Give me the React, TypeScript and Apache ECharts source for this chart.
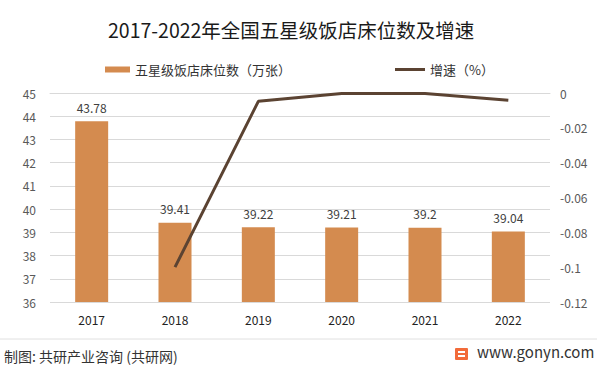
import React, { useEffect, useRef } from "react";
import * as echarts from "echarts";

const categories = ["2017", "2018", "2019", "2020", "2021", "2022"];
const beds = [43.78, 39.41, 39.22, 39.21, 39.2, 39.04];
const growth = [null, -0.1, -0.0048, -0.0003, -0.0003, -0.0041];
const titleText = "2017-2022年全国五星级饭店床位数及增速";
const barName = "五星级饭店床位数（万张）";
const lineName = "增速（%）";
const sourceText = "制图: 共研产业咨询 (共研网)";
const siteText = "www.gonyn.com";

export default function App() {
  const ref = useRef<HTMLDivElement>(null);
  useEffect(() => {
    const chart = echarts.init(ref.current!, null, { renderer: "svg" });
    const font = "'Microsoft YaHei', 'Noto Sans CJK SC', sans-serif";
    const legendText = { fontSize: 13, color: "#333", fontFamily: font };
    chart.setOption({
      animation: false,
      backgroundColor: "#ffffff",
      textStyle: { fontFamily: font },
      title: {
        text: titleText,
        left: 108,
        top: 20,
        padding: 0,
        textStyle: { fontSize: 19.5, fontWeight: "normal", color: "#1a1a1a", fontFamily: font },
      },
      legend: [
        {
          top: 63,
          left: 105,
          padding: 0,
          itemWidth: 25,
          itemHeight: 6,
          itemGap: 0,
          textStyle: legendText,
          data: [{ name: barName, icon: "rect" }],
        },
        {
          top: 63,
          left: 395,
          padding: 0,
          itemWidth: 30,
          itemHeight: 14,
          textStyle: legendText,
          data: [{ name: lineName, icon: "path://M0 0H30V3H0Z", itemStyle: { color: "#5b4332" } }],
        },
      ],
      grid: { left: 50, right: 47, top: 93, bottom: 67 },
      xAxis: {
        type: "category",
        data: categories,
        axisLine: { lineStyle: { color: "#d9d9d9" } },
        axisTick: { show: false },
        axisLabel: { color: "#222", fontSize: 12, margin: 11 },
      },
      yAxis: [
        {
          type: "value",
          min: 36,
          max: 45,
          interval: 1,
          axisLine: { show: false },
          axisTick: { show: false },
          axisLabel: { color: "#595959", fontSize: 12, margin: 14 },
          splitLine: { lineStyle: { color: "#d9d9d9" } },
        },
        {
          type: "value",
          min: -0.12,
          max: 0,
          interval: 0.02,
          axisLine: { show: false },
          axisTick: { show: false },
          axisLabel: {
            color: "#595959",
            fontSize: 12,
            margin: 10,
            formatter: (v: number) => String(Math.round(v * 100) / 100),
          },
          splitLine: { show: false },
        },
      ],
      series: [
        {
          name: barName,
          type: "bar",
          data: beds,
          barWidth: 33,
          itemStyle: { color: "#d48b4f" },
          label: { show: true, position: "top", color: "#404040", fontSize: 12, distance: 8 },
        },
        {
          name: lineName,
          type: "line",
          yAxisIndex: 1,
          data: growth,
          symbol: "none",
          lineStyle: { color: "#5b4332", width: 3 },
          itemStyle: { color: "#5b4332" },
        },
      ],
      graphic: [
        { type: "line", shape: { x1: 0, y1: 339, x2: 597, y2: 339 }, style: { stroke: "#e0e0e0", lineWidth: 1 } },
        {
          type: "text",
          left: 4,
          top: 349,
          style: { text: sourceText, fontSize: 14, fill: "#333", fontFamily: font },
        },
        { type: "rect", shape: { x: 455, y: 348, width: 13, height: 12, r: 1 }, style: { fill: "#f26b3a" } },
        { type: "rect", shape: { x: 458, y: 351, width: 7, height: 2 }, style: { fill: "#ffffff" } },
        { type: "rect", shape: { x: 458, y: 355, width: 7, height: 2 }, style: { fill: "#ffffff" } },
        {
          type: "text",
          left: 477,
          top: 344,
          style: { text: siteText, fontSize: 15, fill: "#333", fontFamily: font },
        },
      ],
    });
    return () => chart.dispose();
  }, []);
  return <div ref={ref} style={{ position: "fixed", left: 0, top: 0, width: 597, height: 369 }} />;
}
